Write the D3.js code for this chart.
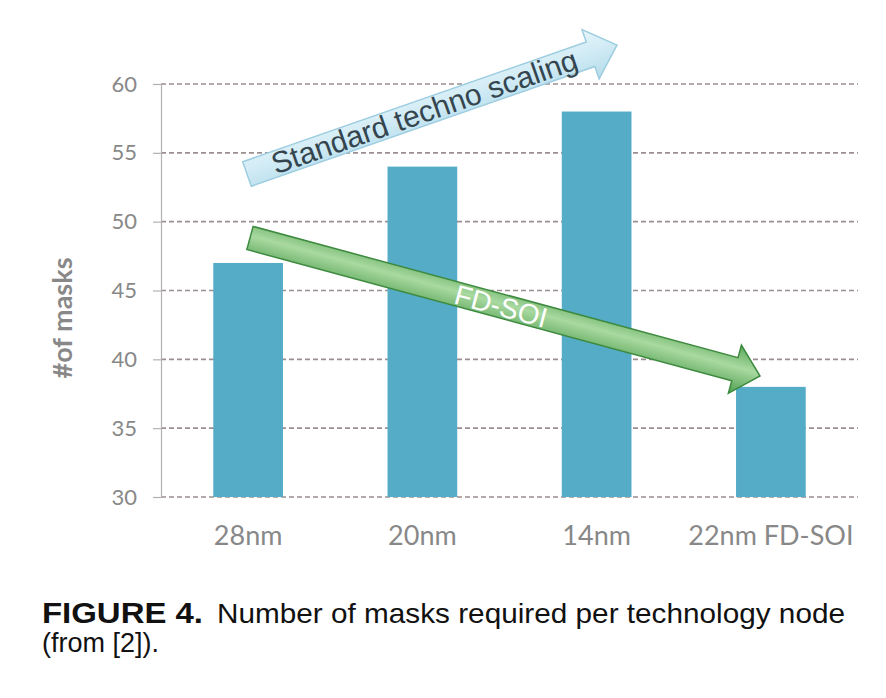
<!DOCTYPE html>
<html>
<head>
<meta charset="utf-8">
<script src="https://cdn.jsdelivr.net/npm/d3@7"></script>
<style>
  body { margin: 0; background: #fff; }
  svg { display: block; }
</style>
</head>
<body>
<script>
// chart size
const width = 886;
const height = 698;

// data
const categories = ['28nm', '20nm', '14nm', '22nm FD-SOI'];
const masks = [47, 54, 58, 38];
const yTicks = [30, 35, 40, 45, 50, 55, 60];

// plot area
const plot = { left: 161, right: 858, top: 84, bottom: 497 };

const svg = d3.select('body').append('svg')
    .attr('width', width)
    .attr('height', height);

const x = d3.scaleBand()
    .domain(categories)
    .range([plot.left, plot.right])
    .paddingInner(0.6)
    .paddingOuter(0.3);

const y = d3.scaleLinear()
    .domain([30, 60])
    .range([plot.bottom, plot.top]);

// dashed gridlines
svg.append('g')
    .selectAll('line')
    .data(yTicks)
    .enter()
    .append('line')
    .attr('x1', plot.left)
    .attr('x2', plot.right)
    .attr('y1', d => y(d))
    .attr('y2', d => y(d))
    .attr('stroke', '#9c8f8f')
    .attr('stroke-width', 1.6)
    .attr('stroke-dasharray', '5,3');

// y axis
const yAxis = svg.append('g')
    .attr('transform', 'translate(' + plot.left + ',0)')
    .call(d3.axisLeft(y).tickValues(yTicks).tickSize(8).tickPadding(16));
yAxis.select('.domain').attr('stroke', '#b5b0b0').attr('stroke-width', 1.2);
yAxis.selectAll('.tick line').attr('stroke', '#b5b0b0').attr('stroke-width', 1.2);
yAxis.selectAll('.tick text')
    .attr('fill', '#888')
    .attr('font-family', 'Lato, sans-serif')
    .attr('font-size', '22px');

// bars
svg.append('g')
    .selectAll('rect')
    .data(masks)
    .enter()
    .append('rect')
    .attr('fill', '#55acc7')
    .attr('x', (d, i) => x(categories[i]))
    .attr('y', d => y(d))
    .attr('width', x.bandwidth())
    .attr('height', d => y(30) - y(d));

// x axis labels
const xAxis = svg.append('g')
    .attr('transform', 'translate(0,' + plot.bottom + ')')
    .call(d3.axisBottom(x).tickSize(0).tickPadding(29));
xAxis.select('.domain').remove();
xAxis.selectAll('.tick text')
    .attr('fill', '#888')
    .attr('font-family', 'Lato, sans-serif')
    .attr('font-size', '27px');

// y title
svg.append('text')
    .attr('transform', 'translate(72,318) rotate(-90)')
    .attr('text-anchor', 'middle')
    .attr('fill', '#888')
    .attr('font-family', 'Lato, sans-serif')
    .attr('font-weight', 'bold')
    .attr('font-size', '27px')
    .text('#of masks');

// arrows
const defs = svg.append('defs');
function grad(id, stops) {
    const g = defs.append('linearGradient').attr('id', id)
        .attr('x1', 0).attr('y1', 0).attr('x2', 0).attr('y2', 1);
    stops.forEach(s => g.append('stop').attr('offset', s[0]).attr('stop-color', s[1]));
}
grad('gBlue', [[0, '#e6f5fa'], [0.5, '#cfeaf4'], [1, '#b5dceb']]);
grad('gGreen', [[0, '#5aa85a'], [0.45, '#a9d9a0'], [1, '#4f9e50']]);

function arrow(x0, y0, x1, y1, w, hw, hl) {
    const L = Math.hypot(x1 - x0, y1 - y0);
    const a = Math.atan2(y1 - y0, x1 - x0) * 180 / Math.PI;
    const pts = [[0, -w / 2], [L - hl, -w / 2], [L - hl, -hw / 2], [L, 0],
                 [L - hl, hw / 2], [L - hl, w / 2], [0, w / 2]];
    return { d: 'M' + pts.join('L') + 'Z', t: 'translate(' + x0 + ',' + y0 + ') rotate(' + a + ')', L: L, a: a };
}

// standard techno scaling arrow
const ab = arrow(247, 174, 617, 45, 26, 52, 28);
const gb = svg.append('g').attr('transform', ab.t);
gb.append('path').attr('d', ab.d)
    .attr('fill', 'url(#gBlue)')
    .attr('stroke', '#9ccde0')
    .attr('stroke-width', 1.5);
gb.append('text')
    .attr('x', ab.L / 2 - 8)
    .attr('y', 10)
    .attr('text-anchor', 'middle')
    .attr('fill', '#34454f')
    .attr('font-family', 'Liberation Sans, Arial, sans-serif')
    .attr('font-size', '30px')
    .attr('textLength', 322)
    .text('Standard techno scaling');

// FD-SOI arrow
const ag = arrow(250, 238, 760, 376, 24, 50, 26);
const gg = svg.append('g').attr('transform', ag.t);
gg.append('path').attr('d', ag.d)
    .attr('fill', 'url(#gGreen)')
    .attr('stroke', '#3d8a3f')
    .attr('stroke-width', 1.5);
gg.append('text')
    .attr('x', ag.L / 2 - 4)
    .attr('y', 10)
    .attr('text-anchor', 'middle')
    .attr('fill', '#ffffff')
    .attr('font-family', 'Liberation Sans, Arial, sans-serif')
    .attr('font-size', '28px')
    .text('FD-SOI');

// caption
const capFont = 'Liberation Sans, Arial, sans-serif';
svg.append('text')
    .attr('x', 42)
    .attr('y', 623)
    .attr('fill', '#111')
    .attr('font-family', capFont)
    .attr('font-weight', 'bold')
    .attr('font-size', '29px')
    .attr('textLength', 161)
    .attr('lengthAdjust', 'spacingAndGlyphs')
    .text('FIGURE 4.');
svg.append('text')
    .attr('x', 217)
    .attr('y', 623)
    .attr('fill', '#111')
    .attr('font-family', capFont)
    .attr('font-size', '28px')
    .attr('textLength', 628)
    .attr('lengthAdjust', 'spacingAndGlyphs')
    .text('Number of masks required per technology node');
svg.append('text')
    .attr('x', 42)
    .attr('y', 652)
    .attr('fill', '#111')
    .attr('font-family', capFont)
    .attr('font-size', '28px')
    .attr('textLength', 117)
    .attr('lengthAdjust', 'spacingAndGlyphs')
    .text('(from [2]).');
</script>
</body>
</html>
